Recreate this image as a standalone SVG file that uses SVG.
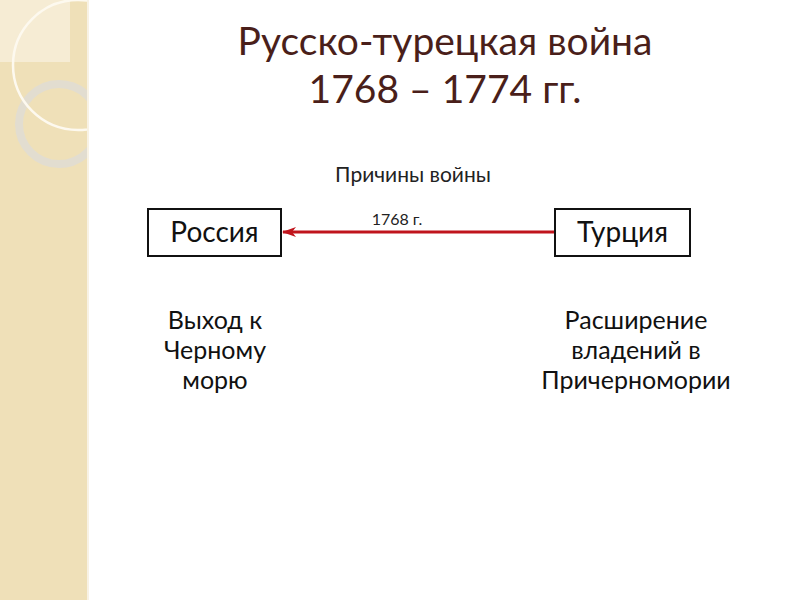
<svg xmlns="http://www.w3.org/2000/svg" width="800" height="600" viewBox="0 0 800 600">
<defs>
<style>
.t{font-family:Lato,"Open Sans","Liberation Sans",sans-serif;text-anchor:middle}
.title{font-size:39px;fill:#4a1f1a}
.lbl{font-size:25px;fill:#111}
.box{fill:#fff;stroke:#111;stroke-width:2}
.node{font-size:28px;fill:#111}
</style>
<marker id="ah" viewBox="0 0 14 10" refX="13" refY="5" markerWidth="14" markerHeight="10" markerUnits="userSpaceOnUse" orient="auto">
<path d="M0,0 L14,5 L0,10 L4,5 Z" fill="#c0141c"/>
</marker>
<clipPath id="band"><rect x="0" y="0" width="87" height="600"/></clipPath>
</defs>
<rect width="800" height="600" fill="#fff"/>
<g id="decor">
<rect x="0" y="0" width="87" height="600" fill="#efe0b8"/>
<rect x="0" y="0" width="70" height="62" fill="#f6ecd4"/>
<g clip-path="url(#band)">
<circle cx="59" cy="124" r="40" fill="none" stroke="#e2ddd0" stroke-width="8"/>
<circle cx="78" cy="65" r="65" fill="none" stroke="#fdf9ef" stroke-width="2.5"/>
</g>
<line x1="88" y1="0" x2="88" y2="600" stroke="#f8f2e4" stroke-width="2"/>
</g>
<g id="title">
<text class="t title" x="445" y="55">Русско-турецкая война</text>
<text class="t title" x="445" y="103">1768 – 1774 гг.</text>
</g>
<text class="t" x="413" y="182" font-size="21" fill="#222">Причины войны</text>
<g id="connectors">
<line x1="555" y1="232" x2="283" y2="232" stroke="#c0141c" stroke-width="3" marker-end="url(#ah)"/>
<text class="t" x="397" y="225" font-size="16" fill="#222">1768 г.</text>
</g>
<g id="russia">
<rect class="box" x="148" y="209" width="133" height="47"/>
<text class="t node" x="214.5" y="242">Россия</text>
</g>
<g id="turkey">
<rect class="box" x="555" y="209" width="135" height="47"/>
<text class="t node" x="622.5" y="242">Турция</text>
</g>
<g id="russia-cause">
<text class="t lbl" x="215" y="329">Выход к</text>
<text class="t lbl" x="215" y="359">Черному</text>
<text class="t lbl" x="215" y="389">морю</text>
</g>
<g id="turkey-cause">
<text class="t lbl" x="636" y="329">Расширение</text>
<text class="t lbl" x="636" y="359">владений в</text>
<text class="t lbl" x="636" y="389">Причерномории</text>
</g>
</svg>
